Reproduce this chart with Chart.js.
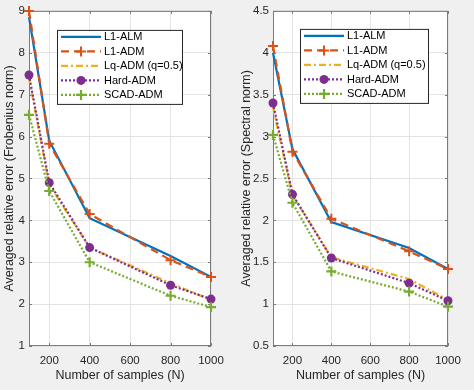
<!DOCTYPE html>
<html>
<head>
<meta charset="utf-8">
<script src="https://cdn.jsdelivr.net/npm/chart.js@4.4.1/dist/chart.umd.min.js"></script>
<style>
    html, body { margin: 0; padding: 0; background: #f0f0f0; }
    #wrap { position: relative; width: 474px; height: 390px; }
    .box { position: absolute; top: 0; width: 237px; height: 390px; }
</style>
</head>
<body>
<div id="wrap">
    <div class="box" style="left:0"><canvas id="frob"></canvas></div>
    <div class="box" style="left:237px"><canvas id="spec"></canvas></div>
</div>
<script>
// ---- data ----
const samples = [100, 200, 400, 800, 1000];
const seriesNames = ['L1-ALM', 'L1-ADM', 'Lq-ADM (q=0.5)', 'Hard-ADM', 'SCAD-ADM'];
const xTicks = [200, 400, 600, 800, 1000];

// Frobenius norm panel
const frobL1ALM = [8.85, 5.9, 4.05, 3.15, 2.65];
const frobL1ADM = [9.0, 5.83, 4.15, 3.05, 2.65];
const frobLq = [7.4, 4.85, 3.35, 2.5, 2.1];
const frobHard = [7.47, 4.9, 3.35, 2.45, 2.12];
const frobSCAD = [6.52, 4.7, 3.0, 2.2, 1.93];
const frobYTicks = [1, 2, 3, 4, 5, 6, 7, 8, 9];

// Spectral norm panel
const specL1ALM = [4.0, 2.85, 1.98, 1.67, 1.42];
const specL1ADM = [4.08, 2.82, 2.02, 1.63, 1.42];
const specLq = [3.35, 2.3, 1.56, 1.3, 1.05];
const specHard = [3.4, 2.31, 1.55, 1.25, 1.04];
const specSCAD = [3.02, 2.21, 1.39, 1.15, 0.97];
const specYTicks = [0.5, 1, 1.5, 2, 2.5, 3, 3.5, 4, 4.5];

const C = {
    blue: '#0072BD',
    orange: '#D95319',
    yellow: '#EDB120',
    purple: '#7E2F8E',
    green: '#77AC30',
    grid: '#e3e3e3',
    axis: '#7a7a7a',
    text: '#262626',
};
const FONT = 'Liberation Sans, Arial, sans-serif';

function pts(ys) {
    return samples.map((x, i) => ({ x, y: ys[i] }));
}

function makeDatasets(vals) {
    const base = { fill: false, tension: 0, pointHoverRadius: 0, clip: false };
    return [
        { ...base, label: seriesNames[0], data: pts(vals[0]), borderColor: C.blue, borderWidth: 2.2,
          pointRadius: 0, order: 5 },
        { ...base, label: seriesNames[1], data: pts(vals[1]), borderColor: C.orange, borderWidth: 2.2,
          borderDash: [8, 5], pointStyle: 'cross', pointRadius: 5, pointBorderWidth: 2,
          pointBorderColor: C.orange, order: 4 },
        { ...base, label: seriesNames[2], data: pts(vals[2]), borderColor: C.yellow, borderWidth: 2.2,
          borderDash: [7, 3, 2, 3], pointRadius: 0, order: 3 },
        { ...base, label: seriesNames[3], data: pts(vals[3]), borderColor: C.purple, borderWidth: 2.2,
          borderDash: [2, 2], pointStyle: 'circle', pointRadius: 4.5, pointBorderWidth: 0,
          pointBackgroundColor: C.purple, order: 2 },
        { ...base, label: seriesNames[4], data: pts(vals[4]), borderColor: C.green, borderWidth: 2.2,
          borderDash: [2, 2], pointStyle: 'cross', pointRadius: 5, pointBorderWidth: 2.2,
          pointBorderColor: C.green, order: 1 },
    ];
}

// white plot area, box with inward ticks, and a boxed legend inside the axes
const matlabAxes = {
    id: 'matlabAxes',
    beforeDraw(chart) {
        const { ctx, chartArea: a } = chart;
        ctx.save();
        ctx.fillStyle = '#ffffff';
        ctx.fillRect(a.left, a.top, a.right - a.left, a.bottom - a.top);
        ctx.restore();
    },
    beforeDatasetsDraw(chart) {
        const { ctx, chartArea: a, scales } = chart;
        ctx.save();
        ctx.strokeStyle = C.axis;
        ctx.lineWidth = 1;
        ctx.strokeRect(a.left + 0.5, a.top + 0.5, a.right - a.left - 1, a.bottom - a.top - 1);
        ctx.beginPath();
        scales.x.ticks.forEach(t => {
            const px = Math.round(scales.x.getPixelForValue(t.value)) + 0.5;
            ctx.moveTo(px, a.bottom); ctx.lineTo(px, a.bottom - 3);
            ctx.moveTo(px, a.top); ctx.lineTo(px, a.top + 3);
        });
        scales.y.ticks.forEach(t => {
            const py = Math.round(scales.y.getPixelForValue(t.value)) + 0.5;
            ctx.moveTo(a.left, py); ctx.lineTo(a.left + 3, py);
            ctx.moveTo(a.right, py); ctx.lineTo(a.right - 3, py);
        });
        ctx.stroke();
        ctx.restore();
    },
    afterDatasetsDraw(chart) {
        const { ctx, chartArea: a } = chart;
        ctx.save();
        const lg = chart.options.plugins.matlabAxes;
        const x0 = a.left + lg.x, y0 = a.top + lg.y, w = lg.w, h = 74;
        ctx.fillStyle = '#ffffff';
        ctx.fillRect(x0, y0, w, h);
        ctx.strokeStyle = '#262626';
        ctx.lineWidth = 1;
        ctx.strokeRect(x0 + 0.5, y0 + 0.5, w, h);
        ctx.font = '11px ' + FONT;
        ctx.textBaseline = 'middle';
        chart.data.datasets.forEach((ds, i) => {
            const yy = y0 + 7 + i * 14.5;
            ctx.strokeStyle = ds.borderColor;
            ctx.lineWidth = ds.borderWidth;
            ctx.setLineDash(ds.borderDash || []);
            ctx.beginPath();
            ctx.moveTo(x0 + 4, yy); ctx.lineTo(x0 + 44, yy);
            ctx.stroke();
            ctx.setLineDash([]);
            if (ds.pointRadius > 0) {
                const mx = x0 + 24;
                if (ds.pointStyle === 'circle') {
                    ctx.fillStyle = ds.pointBackgroundColor;
                    ctx.beginPath(); ctx.arc(mx, yy, ds.pointRadius, 0, Math.PI * 2); ctx.fill();
                } else {
                    ctx.strokeStyle = ds.pointBorderColor;
                    ctx.lineWidth = ds.pointBorderWidth;
                    ctx.beginPath();
                    ctx.moveTo(mx - 5, yy); ctx.lineTo(mx + 5, yy);
                    ctx.moveTo(mx, yy - 5); ctx.lineTo(mx, yy + 5);
                    ctx.stroke();
                }
            }
            ctx.fillStyle = '#000000';
            ctx.fillText(ds.label, x0 + 47, yy + 0.5);
        });
        ctx.restore();
    },
};

function createPanel(canvasId, vals, yTicks, yTitle, yWidth, legendPos) {
    const canvas = document.getElementById(canvasId);
    return new Chart(canvas, {
        type: 'line',
        data: { datasets: makeDatasets(vals) },
        options: {
            responsive: true,
            maintainAspectRatio: false,
            animation: false,
            layout: { padding: { top: 5, right: 26, left: 0, bottom: 7 } },
            plugins: {
                legend: { display: false },
                tooltip: { enabled: false },
                matlabAxes: legendPos,
            },
            scales: {
                x: {
                    type: 'linear',
                    min: 100,
                    max: 1000,
                    afterBuildTicks: (s) => { s.ticks = xTicks.map(v => ({ value: v })); },
                    afterFit: (s) => { s.height = 37; },
                    grid: { color: C.grid, drawTicks: false },
                    border: { display: false },
                    ticks: { font: { family: FONT, size: 11.5 }, color: C.text, padding: 8, maxRotation: 0,
                             callback: (v) => String(v) },
                    title: { display: true, text: 'Number of samples (N)', color: C.text,
                             font: { family: FONT, size: 12.5 }, padding: { top: 1, bottom: 0 } },
                },
                y: {
                    min: yTicks[0],
                    max: yTicks[yTicks.length - 1],
                    afterBuildTicks: (s) => { s.ticks = yTicks.map(v => ({ value: v })); },
                    afterFit: (s) => { s.width = yWidth; },
                    grid: { color: C.grid, drawTicks: false },
                    border: { display: false },
                    ticks: { font: { family: FONT, size: 11.5 }, color: C.text, padding: 4,
                             callback: (v) => String(v) },
                    title: { display: true, text: yTitle, color: C.text,
                             font: { family: FONT, size: 12.5 }, padding: { top: 2, bottom: 0 } },
                },
            },
        },
        plugins: [matlabAxes],
    });
}

Chart.defaults.font.family = FONT;

createPanel('frob', [frobL1ALM, frobL1ADM, frobLq, frobHard, frobSCAD], frobYTicks,
    'Averaged relative error (Frobenius norm)', 29, { x: 28, y: 19, w: 125 });
createPanel('spec', [specL1ALM, specL1ADM, specLq, specHard, specSCAD], specYTicks,
    'Averaged relative error (Spectral norm)', 36, { x: 27, y: 18, w: 128 });
</script>
</body>
</html>
